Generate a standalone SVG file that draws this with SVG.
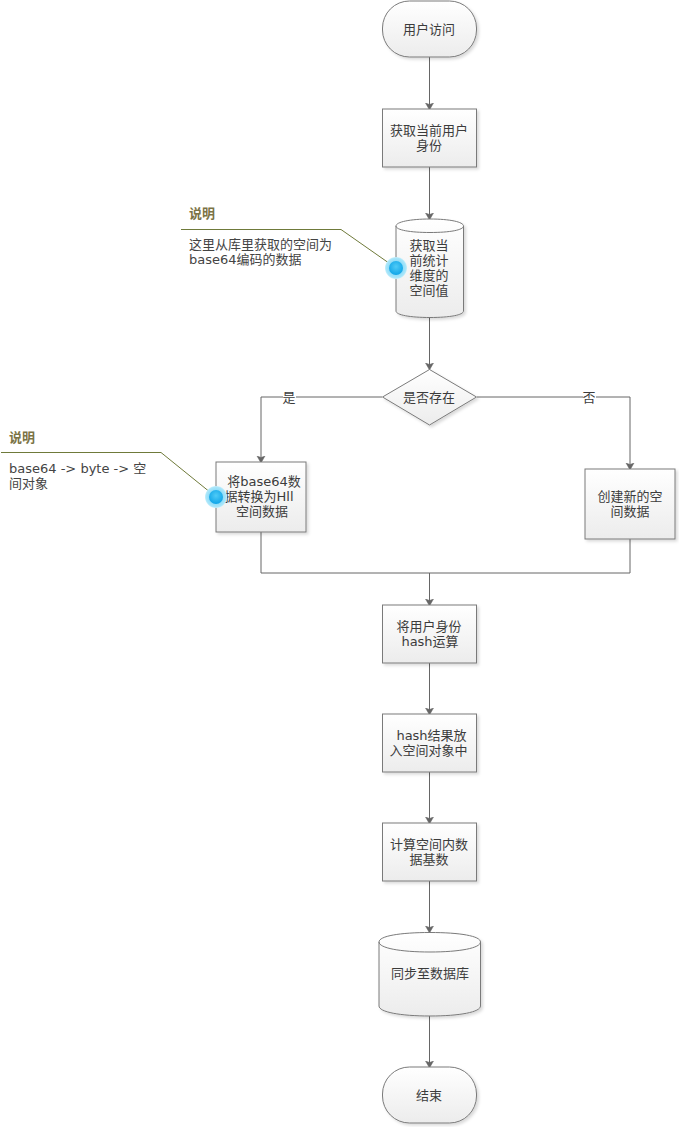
<svg xmlns="http://www.w3.org/2000/svg" width="679" height="1127" viewBox="0 0 679 1127">
<defs>
<linearGradient id="g" x1="0" y1="0" x2="0" y2="1"><stop offset="0" stop-color="#ffffff"/><stop offset="1" stop-color="#ececec"/></linearGradient>
<radialGradient id="b" cx="0.5" cy="0.4" r="0.6"><stop offset="0" stop-color="#4fcbf7"/><stop offset="1" stop-color="#10a5e8"/></radialGradient>
<radialGradient id="h"><stop offset="0.6" stop-color="#8edcf8"/><stop offset="0.9" stop-color="#a9e6fa"/><stop offset="1" stop-color="#c8effb"/></radialGradient>
<filter id="s" x="-10%" y="-10%" width="125%" height="125%"><feDropShadow dx="2" dy="2" stdDeviation="1.500" flood-color="#000" flood-opacity="0.15"/></filter>
<marker id="a" markerUnits="userSpaceOnUse" markerWidth="10" markerHeight="10" refX="7" refY="5" orient="auto"><path d="M0 1L7 5L0 9L1.500 5Z" fill="#666" stroke="#666" stroke-width="0.5"/></marker>
</defs>
<style>
.n{fill:url(#g);stroke:#7a7a7a;stroke-width:1;filter:url(#s)}
.c{fill:none;stroke:#666;stroke-width:1;marker-end:url(#a)}
.l{fill:none;stroke:#666;stroke-width:1}
.t{font-family:"DejaVu Sans","Noto Sans CJK SC",sans-serif;font-size:13px;fill:#3c3c3c;text-anchor:middle}
.h{font-family:"DejaVu Sans","Noto Sans CJK SC",sans-serif;font-size:13px;fill:#444}
.k{font-family:"DejaVu Sans","Noto Sans CJK SC",sans-serif;font-size:13px;font-weight:bold;fill:#7b7345}
.m{fill:none;stroke:#6f7a3a;stroke-width:1}
</style>
<g id="connectors">
<path class="c" d="M429.500 57V110"/>
<path class="c" d="M429.500 167V220"/>
<path class="c" d="M429.500 317V370"/>
<path class="c" d="M382 397H261V463"/>
<path class="c" d="M477 397H630V470"/>
<path class="l" d="M261 532V573H630V539"/>
<path class="c" d="M429.500 573V606"/>
<path class="c" d="M429.500 663V715"/>
<path class="c" d="M429.500 772V824"/>
<path class="c" d="M429.500 881V933"/>
<path class="c" d="M429.500 1016V1068"/>
</g>
<g id="n-start"><rect class="n" x="382.500" y="1" width="94" height="56" rx="27" ry="27"/><text class="t" x="429" y="34">用户访问</text></g>
<g id="n-identity"><rect class="n" x="382.500" y="109" width="94" height="58"/><text class="t" x="429" y="135">获取当前用户</text><text class="t" x="429" y="150">身份</text></g>
<g id="n-get"><path class="n" d="M396 226C396 222 410 219 430 219S463.500 222 463.500 226V311C463.500 315 450 317.500 430 317.500S396 315 396 311Z"/><path class="l" d="M396 226C396 230 410 232.500 430 232.500S463.500 230 463.500 226" style="stroke:#7a7a7a"/><text class="t" x="429" y="250">获取当</text><text class="t" x="429" y="265">前统计</text><text class="t" x="429" y="280">维度的</text><text class="t" x="429" y="295">空间值</text></g>
<g id="n-exists"><path class="n" d="M429.500 369.500L476.500 397L429.500 425L382.500 397Z"/><text class="t" x="429" y="402">是否存在</text></g>
<g id="n-convert"><rect class="n" x="216" y="462" width="90" height="70"/><text class="t" x="264" y="486">将base64数</text><text class="t" x="259" y="501">据转换为Hll</text><text class="t" x="262" y="516">空间数据</text></g>
<g id="n-create"><rect class="n" x="585" y="469" width="90" height="70"/><text class="t" x="630" y="501">创建新的空</text><text class="t" x="630" y="516">间数据</text></g>
<g id="n-hash"><rect class="n" x="382.500" y="605" width="94" height="58"/><text class="t" x="429" y="631">将用户身份</text><text class="t" x="430" y="646">hash运算</text></g>
<g id="n-put"><rect class="n" x="382.500" y="714" width="94" height="58"/><text class="t" x="431.500" y="740">hash结果放</text><text class="t" x="428.500" y="755">入空间对象中</text></g>
<g id="n-calc"><rect class="n" x="382.500" y="823" width="94" height="58"/><text class="t" x="429" y="849">计算空间内数</text><text class="t" x="429" y="864">据基数</text></g>
<g id="n-sync"><path class="n" d="M379 942C379 936 400 932.500 430 932.500S480.500 936 480.500 942V1006C480.500 1012 460 1016 430 1016S379 1012 379 1006Z"/><path class="l" d="M379 942C379 948 400 952 430 952S480.500 948 480.500 942" style="stroke:#7a7a7a"/><text class="t" x="430" y="978">同步至数据库</text></g>
<g id="n-end"><rect class="n" x="382.500" y="1067" width="94" height="56" rx="27" ry="27"/><text class="t" x="429" y="1100">结束</text></g>
<rect x="283" y="391" width="13" height="13" fill="#fff"/><text class="t" x="289" y="402">是</text>
<rect x="583" y="391" width="13" height="13" fill="#fff"/><text class="t" x="589" y="402">否</text>
<g id="note-1"><path class="m" d="M181 229.500H341L396 268"/><text class="k" x="189" y="218">说明</text><text class="h" x="189" y="249">这里从库里获取的空间为</text><text class="h" x="189" y="264">base64编码的数据</text><circle cx="396" cy="268" r="11" fill="url(#h)"/><circle cx="396" cy="268" r="7" fill="url(#b)"/></g>
<g id="note-2"><path class="m" d="M1 452.500H161L216 497"/><text class="k" x="9" y="442">说明</text><text class="h" x="9" y="473">base64 -&gt; byte -&gt; 空</text><text class="h" x="9" y="488">间对象</text><circle cx="216" cy="497" r="11" fill="url(#h)"/><circle cx="216" cy="497" r="7" fill="url(#b)"/></g>
</svg>
